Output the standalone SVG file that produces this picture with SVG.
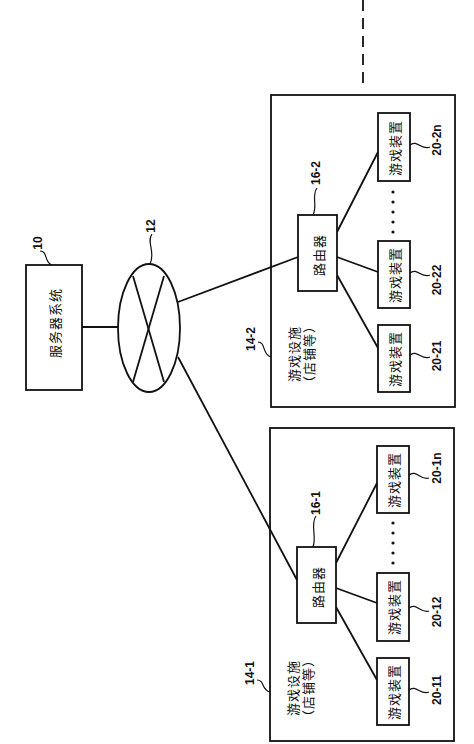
<svg xmlns="http://www.w3.org/2000/svg" width="474" height="744" viewBox="0 0 474 744">
<style>
.box{fill:#fff;stroke:#111;stroke-width:1.8}
.frame{fill:none;stroke:#111;stroke-width:1.8}
.ln{fill:none;stroke:#111;stroke-width:1.8}
.sq{fill:none;stroke:#111;stroke-width:1.2}
.cj{font-family:"Noto Sans CJK SC","Noto Sans CJK JP",sans-serif;font-size:13px;fill:#111;text-anchor:middle;dominant-baseline:central;letter-spacing:1px}
.lb{font-family:"Liberation Sans",Arial,sans-serif;font-size:12px;font-weight:bold;fill:#111;text-anchor:middle;dominant-baseline:central}
.dot{fill:#111}
</style>
<rect width="474" height="744" fill="#fff"/>
<g id="facility-14-2">
<rect class="frame" x="271" y="95" width="184" height="312"/>
<text class="cj" transform="translate(293,354) rotate(-90)">游戏设施</text>
<text class="cj" font-size="12" letter-spacing="0" transform="translate(308,354) rotate(-90)">（店铺等）</text>
<path class="sq" d="M258,342 C266,342 262,355 271,357"/>
<text class="lb" transform="translate(251,339) rotate(-90)">14-2</text>
</g>
<g id="facility-14-1">
<rect class="frame" x="270" y="428" width="184" height="313"/>
<text class="cj" transform="translate(292,688) rotate(-90)">游戏设施</text>
<text class="cj" font-size="12" letter-spacing="0" transform="translate(307,688) rotate(-90)">（店铺等）</text>
<path class="sq" d="M257,680 C265,680 261,690 270,692"/>
<text class="lb" transform="translate(250,673) rotate(-90)">14-1</text>
</g>
<g id="connectors">
<line class="ln" x1="363" y1="0" x2="363" y2="90" stroke-dasharray="11,7"/>
<line class="ln" x1="82" y1="327" x2="118" y2="327"/>
<line class="ln" x1="178" y1="302" x2="298" y2="257"/>
<line class="ln" x1="178" y1="357" x2="297" y2="580"/>
<line class="ln" x1="337" y1="232" x2="378" y2="152"/>
<line class="ln" x1="337" y1="257" x2="378" y2="272"/>
<line class="ln" x1="337" y1="275" x2="378" y2="348"/>
<line class="ln" x1="336" y1="563" x2="377" y2="483"/>
<line class="ln" x1="336" y1="588" x2="377" y2="603"/>
<line class="ln" x1="336" y1="607" x2="377" y2="680"/>
</g>
<g id="server-10">
<rect class="box" x="26" y="265" width="56" height="125"/>
<text class="cj" letter-spacing="2" transform="translate(54,323) rotate(-90)">服务器系统</text>
<path class="sq" d="M40,251 C48,251 44,263 52,265"/>
<text class="lb" transform="translate(38,243) rotate(-90)">10</text>
</g>
<g id="network-12">
<ellipse class="box" cx="149" cy="328" rx="31" ry="64"/>
<line class="ln" x1="133" y1="276" x2="164" y2="382"/>
<line class="ln" x1="164" y1="276" x2="133" y2="382"/>
<path class="sq" d="M152,234 C146,242 156,252 150,264"/>
<text class="lb" transform="translate(151,226) rotate(-90)">12</text>
</g>
<g id="router-16-2">
<rect class="box" x="298" y="215" width="39" height="76"/>
<text class="cj" letter-spacing="3" transform="translate(318,255) rotate(-90)">路由器</text>
<path class="sq" d="M317,188 C311,196 318,205 313,215"/>
<text class="lb" transform="translate(316,173) rotate(-90)">16-2</text>
</g>
<g id="router-16-1">
<rect class="box" x="297" y="547" width="39" height="76"/>
<text class="cj" letter-spacing="3" transform="translate(317,587) rotate(-90)">路由器</text>
<path class="sq" d="M316,516 C310,524 317,537 313,547"/>
<text class="lb" transform="translate(316,503) rotate(-90)">16-1</text>
</g>
<g id="device-20-2n">
<rect class="box" x="378" y="113" width="32" height="68"/>
<text class="cj" transform="translate(394,148) rotate(-90)">游戏装置</text>
<path class="sq" d="M410,145 C417,139 422,151 430,147"/>
<text class="lb" transform="translate(437,140) rotate(-90)">20-2n</text>
</g>
<g id="device-20-22">
<rect class="box" x="378" y="241" width="32" height="67"/>
<text class="cj" transform="translate(394,275) rotate(-90)">游戏装置</text>
<path class="sq" d="M410,273 C417,267 422,279 430,275"/>
<text class="lb" transform="translate(437,280) rotate(-90)">20-22</text>
</g>
<g id="device-20-21">
<rect class="box" x="378" y="325" width="32" height="67"/>
<text class="cj" transform="translate(394,359) rotate(-90)">游戏装置</text>
<path class="sq" d="M410,355 C417,349 422,361 430,357"/>
<text class="lb" transform="translate(437,356) rotate(-90)">20-21</text>
</g>
<g id="device-20-1n">
<rect class="box" x="377" y="446" width="32" height="67"/>
<text class="cj" transform="translate(393,480) rotate(-90)">游戏装置</text>
<path class="sq" d="M409,475 C416,469 421,481 429,478"/>
<text class="lb" transform="translate(437,468) rotate(-90)">20-1n</text>
</g>
<g id="device-20-12">
<rect class="box" x="377" y="573" width="32" height="68"/>
<text class="cj" transform="translate(393,607) rotate(-90)">游戏装置</text>
<path class="sq" d="M409,608 C416,602 421,614 429,611"/>
<text class="lb" transform="translate(437,612) rotate(-90)">20-12</text>
</g>
<g id="device-20-11">
<rect class="box" x="377" y="658" width="32" height="67"/>
<text class="cj" transform="translate(393,692) rotate(-90)">游戏装置</text>
<path class="sq" d="M409,690 C416,684 421,696 429,692"/>
<text class="lb" transform="translate(437,690) rotate(-90)">20-11</text>
</g>
<g id="ellipsis">
<circle class="dot" cx="393" cy="192" r="1.6"/>
<circle class="dot" cx="393" cy="202" r="1.6"/>
<circle class="dot" cx="393" cy="212" r="1.6"/>
<circle class="dot" cx="393" cy="222" r="1.6"/>
<circle class="dot" cx="393" cy="232" r="1.6"/>
<circle class="dot" cx="393" cy="523" r="1.6"/>
<circle class="dot" cx="393" cy="533" r="1.6"/>
<circle class="dot" cx="393" cy="543" r="1.6"/>
<circle class="dot" cx="393" cy="553" r="1.6"/>
<circle class="dot" cx="393" cy="563" r="1.6"/>
</g>
</svg>
